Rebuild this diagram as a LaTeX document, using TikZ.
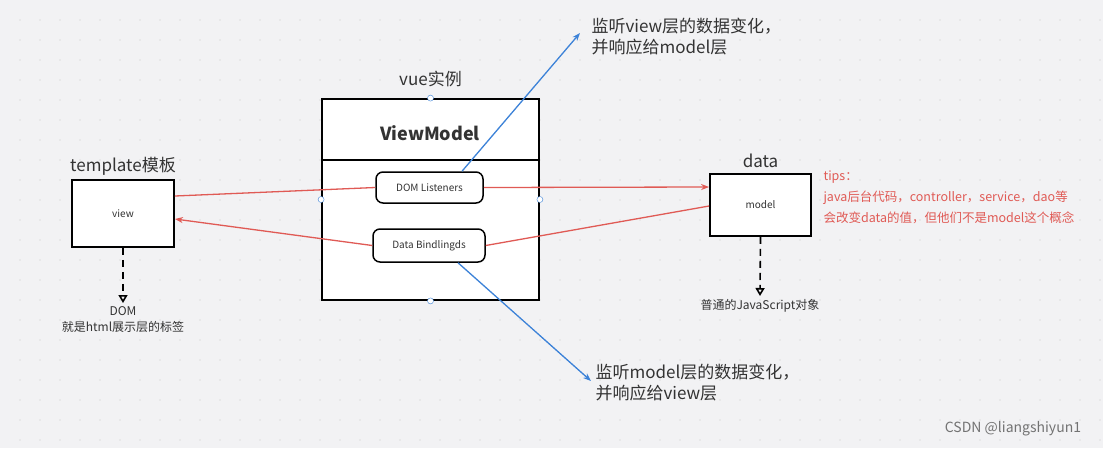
\documentclass[tikz,border=0pt]{standalone}
\usepackage{fontspec}
\setmainfont{Noto Sans CJK SC}
\usetikzlibrary{arrows.meta,positioning}
\definecolor{bgGray}{HTML}{F2F2F4}
\definecolor{linkRed}{HTML}{E05A55}
\definecolor{linkBlue}{HTML}{3C82D8}
\definecolor{txtGray}{HTML}{333333}
\begin{document}
\begin{tikzpicture}[x=1pt,y=-1pt,
  box/.style={draw,line width=1.8pt,fill=white,font=\fontsize{10}{11}\selectfont,text=txtGray},
  pill/.style={box,rounded corners=7pt,line width=1.5pt},
  lbl/.style={font=\fontsize{17}{21}\selectfont,text=txtGray},
  note/.style={font=\fontsize{12}{16}\selectfont,text=txtGray,align=center},
  redlink/.style={linkRed,line width=1.3pt},
  bluelink/.style={linkBlue,line width=1.3pt,-{Stealth[length=8pt]}},
  dep/.style={line width=1.6pt,dash pattern=on 7pt off 5pt,-{Triangle[open,length=8pt,width=9pt]}},
  port/.style={circle,draw=linkBlue,fill=white,inner sep=0pt,minimum size=6pt}]
\useasboundingbox[fill=bgGray] (0,0) rectangle (1103,448);
\foreach \x in {20,40,...,1100} \foreach \y in {20,40,...,440}
  \fill[black!22] (\x,\y) circle (0.6pt);
% view side
\node[box,minimum width=102pt,minimum height=67pt] (view) at (123,213.5) {view};
\node[lbl,above=0pt of view] (tpl) {template模板};
\coordinate (domEnd) at (123,303);
\draw[dep] (view.south) -- (domEnd);
\node[note,below=0pt of domEnd] (dom) {DOM\\就是html展示层的标签};
% vue instance
\node[box,minimum width=217pt,minimum height=201pt] (vm) at (430.5,199.5) {};
\draw[line width=1.8pt] (vm.west |- 0,160) -- (vm.east |- 0,160);
\node[font=\fontsize{18}{20}\selectfont\bfseries,text=txtGray] (vmTitle) at (430,133) {ViewModel};
\node[lbl,above=8pt of vm] (vue) {vue实例};
\node[pill,minimum width=107pt,minimum height=31pt] (listen) at (429.5,187.5) {DOM Listeners};
\node[pill,minimum width=112pt,minimum height=33pt] (bind) at (429,245.5) {Data Bindlingds};
\foreach \a in {north,south,east,west} \node[port] (p\a) at (vm.\a) {};
% model side
\node[box,minimum width=101pt,minimum height=62pt] (model) at (760.5,205) {model};
\node[lbl,above=2pt of model] (data) {data};
\coordinate (jsEnd) at (760,296);
\draw[dep] (model.south) -- (jsEnd);
\node[note,below=0pt of jsEnd] (js) {普通的JavaScript对象};
\node[font=\fontsize{12.5}{21}\selectfont,text=linkRed,align=left,anchor=north west] (tips) at (820,167)
  {tips：\\java后台代码，controller，service，dao等\\会改变data的值，但他们不是model这个概念};
% connectors
\draw[redlink] (view.east |- 0,196) -- (listen.west);
\draw[redlink,-{Stealth[length=8pt]}] (listen.east) -- (model.west |- 0,187);
\draw[redlink] (model.west |- 0,206) -- (bind.east);
\draw[redlink,-{Stealth[length=8pt]}] (bind.west) -- (view.east |- 0,219);
\coordinate (upEnd) at (580,33);
\coordinate (downEnd) at (591,381);
\draw[bluelink] (listen.north -| 462,0) -- (upEnd);
\draw[bluelink] (bind.south -| 458,0) -- (downEnd);
\node[lbl,align=left,anchor=west] (upTxt) at (588,37) {监听view层的数据变化，\\并响应给model层};
\node[lbl,align=left,anchor=west] (downTxt) at (592,383) {监听model层的数据变化，\\并响应给view层};
\node[font=\fontsize{14}{16}\selectfont,text=black!55] (mark) at (1013,429) {CSDN @liangshiyun1};
\end{tikzpicture}
\end{document}
